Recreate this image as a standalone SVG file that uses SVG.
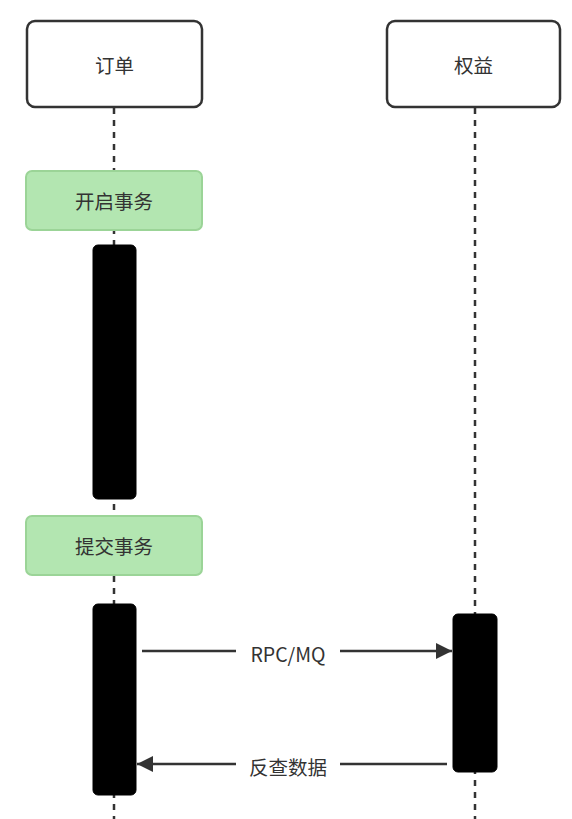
<svg xmlns="http://www.w3.org/2000/svg" width="572" height="819" viewBox="0 0 572 819">
<defs>
<style>
.actor{fill:#fff;stroke:#333;stroke-width:2.5}
.note{fill:#b3e6b1;stroke:#9bd497;stroke-width:2}
.act{fill:#000;stroke:#000;stroke-width:1}
.life{stroke:#333;stroke-width:2.5;stroke-dasharray:6 6;fill:none}
.msg{stroke:#333;stroke-width:2.5;fill:none}
text{font-family:"Noto Sans CJK SC","Noto Sans",sans-serif;font-size:19.5px;fill:#333;text-anchor:middle;dominant-baseline:central}
</style>
<marker id="ah" viewBox="0 0 10 10" refX="10" refY="5" markerWidth="6.4" markerHeight="6.4" orient="auto-start-reverse" markerUnits="strokeWidth">
<path d="M0,0 L10,5 L0,10 z" fill="#333"/>
</marker>
</defs>
<g id="lifelines">
<line class="life" x1="114" y1="108" x2="114" y2="819"/>
<line class="life" x1="475" y1="108" x2="475" y2="819"/>
</g>
<g id="actor-order">
<rect class="actor" x="27" y="21" width="175" height="86" rx="8"/>
<text x="114.5" y="64">订单</text>
</g>
<g id="actor-rights">
<rect class="actor" x="387" y="21" width="173" height="86" rx="8"/>
<text x="473.5" y="64">权益</text>
</g>
<g id="note-begin">
<rect class="note" x="26" y="171" width="176" height="59" rx="6"/>
<text x="114" y="200.5">开启事务</text>
</g>
<g id="act-1">
<rect class="act" x="93" y="245" width="43" height="254" rx="5"/>
</g>
<g id="note-commit">
<rect class="note" x="26" y="516" width="176" height="59" rx="6"/>
<text x="114" y="545.5">提交事务</text>
</g>
<g id="act-2">
<rect class="act" x="93" y="604" width="43" height="191" rx="5"/>
</g>
<g id="act-3">
<rect class="act" x="453" y="614" width="44" height="158" rx="5"/>
</g>
<g id="connectors">
<line class="msg" x1="142" y1="651" x2="236" y2="651"/>
<line class="msg" x1="340" y1="651" x2="452" y2="651" marker-end="url(#ah)"/>
<text x="288" y="653">RPC/MQ</text>
<line class="msg" x1="447" y1="764" x2="340" y2="764"/>
<line class="msg" x1="236" y1="764" x2="137" y2="764" marker-end="url(#ah)"/>
<text x="288" y="766">反查数据</text>
</g>
</svg>
